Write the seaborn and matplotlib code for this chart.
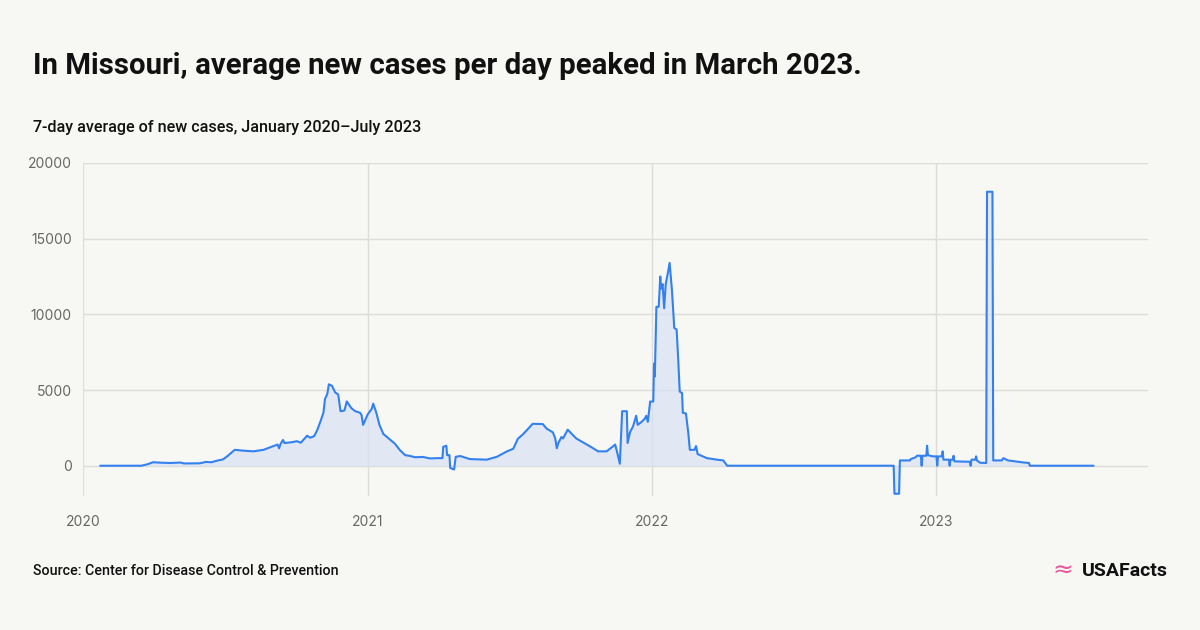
import matplotlib
matplotlib.use("Agg")
import matplotlib.pyplot as plt
import seaborn as sns
import pandas as pd

dates = [
    "2020-01-23", "2020-03-16", "2020-03-24", "2020-03-31", "2020-04-10", "2020-04-22",
    "2020-05-05", "2020-05-10", "2020-05-30", "2020-06-07", "2020-06-14", "2020-06-21",
    "2020-06-29", "2020-07-05", "2020-07-14", "2020-07-24", "2020-08-07", "2020-08-20",
    "2020-09-02", "2020-09-07", "2020-09-09", "2020-09-11", "2020-09-14", "2020-09-16",
    "2020-09-25", "2020-10-02", "2020-10-07", "2020-10-11", "2020-10-15", "2020-10-19",
    "2020-10-24", "2020-10-28", "2020-11-01", "2020-11-05", "2020-11-07", "2020-11-10",
    "2020-11-12", "2020-11-16", "2020-11-20", "2020-11-24", "2020-11-27", "2020-12-02",
    "2020-12-05", "2020-12-11", "2020-12-16", "2020-12-22", "2020-12-24", "2020-12-26",
    "2021-01-01", "2021-01-06", "2021-01-08", "2021-01-12", "2021-01-16", "2021-01-21",
    "2021-01-29", "2021-02-05", "2021-02-11", "2021-02-18", "2021-02-24", "2021-03-03",
    "2021-03-13", "2021-03-22", "2021-03-31", "2021-04-07", "2021-04-08", "2021-04-12",
    "2021-04-13", "2021-04-16", "2021-04-17", "2021-04-22", "2021-04-24", "2021-04-30",
    "2021-05-12", "2021-06-03", "2021-06-16", "2021-06-29", "2021-07-07", "2021-07-13",
    "2021-07-20", "2021-07-26", "2021-08-01", "2021-08-14", "2021-08-19", "2021-08-27",
    "2021-08-30", "2021-09-01", "2021-09-03", "2021-09-07", "2021-09-09", "2021-09-15",
    "2021-09-26", "2021-10-14", "2021-10-24", "2021-11-04", "2021-11-12", "2021-11-15",
    "2021-11-18", "2021-11-21", "2021-11-24", "2021-11-30", "2021-12-01", "2021-12-04",
    "2021-12-08", "2021-12-12", "2021-12-14", "2021-12-19", "2021-12-23", "2021-12-25",
    "2021-12-27", "2021-12-30", "2022-01-03", "2022-01-04", "2022-01-05", "2022-01-07",
    "2022-01-10", "2022-01-12", "2022-01-13", "2022-01-15", "2022-01-17", "2022-01-19",
    "2022-01-22", "2022-01-24", "2022-01-27", "2022-01-30", "2022-02-02", "2022-02-04",
    "2022-02-06", "2022-02-09", "2022-02-10", "2022-02-14", "2022-02-17", "2022-02-19",
    "2022-02-25", "2022-02-27", "2022-03-01", "2022-03-13", "2022-03-26", "2022-04-03",
    "2022-04-08", "2022-11-08", "2022-11-09", "2022-11-15", "2022-11-16", "2022-11-29",
    "2022-11-30", "2022-12-06", "2022-12-08", "2022-12-13", "2022-12-14", "2022-12-15",
    "2022-12-20", "2022-12-21", "2022-12-22", "2022-12-28", "2023-01-02", "2023-01-03",
    "2023-01-04", "2023-01-09", "2023-01-10", "2023-01-11", "2023-01-18", "2023-01-19",
    "2023-01-20", "2023-01-23", "2023-01-24", "2023-01-25", "2023-02-14", "2023-02-15",
    "2023-02-16", "2023-02-21", "2023-02-22", "2023-02-23", "2023-02-27", "2023-03-07",
    "2023-03-08", "2023-03-15", "2023-03-16", "2023-03-27", "2023-03-29", "2023-04-04",
    "2023-04-13", "2023-04-23", "2023-05-01", "2023-05-02", "2023-07-23",
]

cases = [
    0, 0, 100, 230, 200, 180,
    210, 150, 160, 250, 230, 330,
    420, 650, 1050, 1000, 950, 1050,
    1300, 1400, 1150, 1450, 1700, 1500,
    1550, 1620, 1520, 1750, 1980, 1850,
    1950, 2350, 2900, 3500, 4400, 4750,
    5380, 5280, 4850, 4700, 3600, 3650,
    4250, 3800, 3600, 3500, 3350, 2700,
    3400, 3750, 4100, 3500, 2700, 2100,
    1750, 1450, 1050, 700, 650, 560,
    580, 480, 500, 500, 1250, 1320,
    700, 700, -150, -250, 590, 640,
    440, 400, 590, 950, 1120, 1780,
    2100, 2440, 2770, 2750, 2450, 2200,
    1800, 1150, 1500, 1900, 1800, 2380,
    1800, 1270, 950, 950, 1270, 1400,
    800, 130, 3600, 3600, 1500, 2200,
    2600, 3300, 2700, 2900, 3100, 3300,
    2900, 4240, 4240, 6750, 5900, 10500,
    10500, 12500, 11700, 12000, 10400, 12000,
    12800, 13400, 11600, 9100, 9000, 7100,
    4900, 4800, 3500, 3450, 2180, 1050,
    1050, 1300, 770, 500, 400, 350,
    0, 0, -1850, -1850, 350, 350,
    440, 550, 660, 660, 0, 660,
    660, 1320, 700, 620, 620, 0,
    620, 620, 950, 400, 400, 0,
    400, 400, 660, 290, 260, 0,
    400, 400, 620, 350, 200, 180,
    18100, 18100, 350, 350, 500, 350,
    290, 220, 180, 0, 0,
]

year_ticks = ["2020-01-01", "2021-01-01", "2022-01-01", "2023-01-01"]
year_labels = ["2020", "2021", "2022", "2023"]
y_ticks = [0, 5000, 10000, 15000, 20000]

df = pd.DataFrame({"date": pd.to_datetime(dates), "cases": cases})

BG = "#f7f7f3"
LINE = "#3380f0"

sns.set_theme(style="white")
plt.rcParams["font.family"] = ["Inter", "DejaVu Sans"]

fig = plt.figure(figsize=(12, 6.3), dpi=100, facecolor=BG)
ax = fig.add_axes([0.0692, 0.2127, 0.8875, 0.5286])
ax.set_facecolor(BG)

ax.fill_between(df["date"], df["cases"], 0, color="#d8e2f4", alpha=0.7, linewidth=0)
sns.lineplot(data=df, x="date", y="cases", ax=ax, color=LINE, linewidth=1.5)

ax.set_xlim(pd.Timestamp("2020-01-01"), pd.Timestamp("2023-10-01"))
ax.set_ylim(-2000, 20000)
ax.set_xticks(pd.to_datetime(year_ticks))
ax.set_xticklabels(year_labels)
ax.set_yticks(y_ticks)
ax.set_yticklabels([str(v) for v in y_ticks])
ax.set_xlabel("")
ax.set_ylabel("")

ax.grid(True, color="#dcdcd8", linewidth=1)
ax.set_axisbelow(True)
for s in ax.spines.values():
    s.set_visible(False)
ax.tick_params(axis="both", length=0, labelsize=10, labelcolor="#666666")
ax.tick_params(axis="x", pad=14)
ax.tick_params(axis="y", pad=8)

fig.text(0.0275, 0.895, "In Missouri, average new cases per day peaked in March 2023.",
         fontsize=21.2, fontweight="semibold", color="#111111", va="center", ha="left",
         family=["Roboto", "DejaVu Sans"])
fig.text(0.0275, 0.797, "7-day average of new cases, January 2020\u2013July 2023",
         fontsize=11.6, fontweight="medium", color="#111111", va="center", ha="left",
         family=["Roboto", "DejaVu Sans"])
fig.text(0.0275, 0.094, "Source: Center for Disease Control & Prevention",
         fontsize=10.3, fontweight="medium", color="#111111", va="center", ha="left",
         family=["Roboto", "DejaVu Sans"])
fig.text(0.973, 0.094, "USAFacts", fontsize=14, fontweight="bold", color="#111111",
         va="center", ha="right", family=["Roboto", "DejaVu Sans"])
# small pink logo mark
fig.text(0.8855, 0.094, "\u2248", fontsize=18, color="#e8559a", va="center", ha="center",
         family=["DejaVu Sans"])

fig.savefig("out.png", dpi=100, facecolor=BG)
